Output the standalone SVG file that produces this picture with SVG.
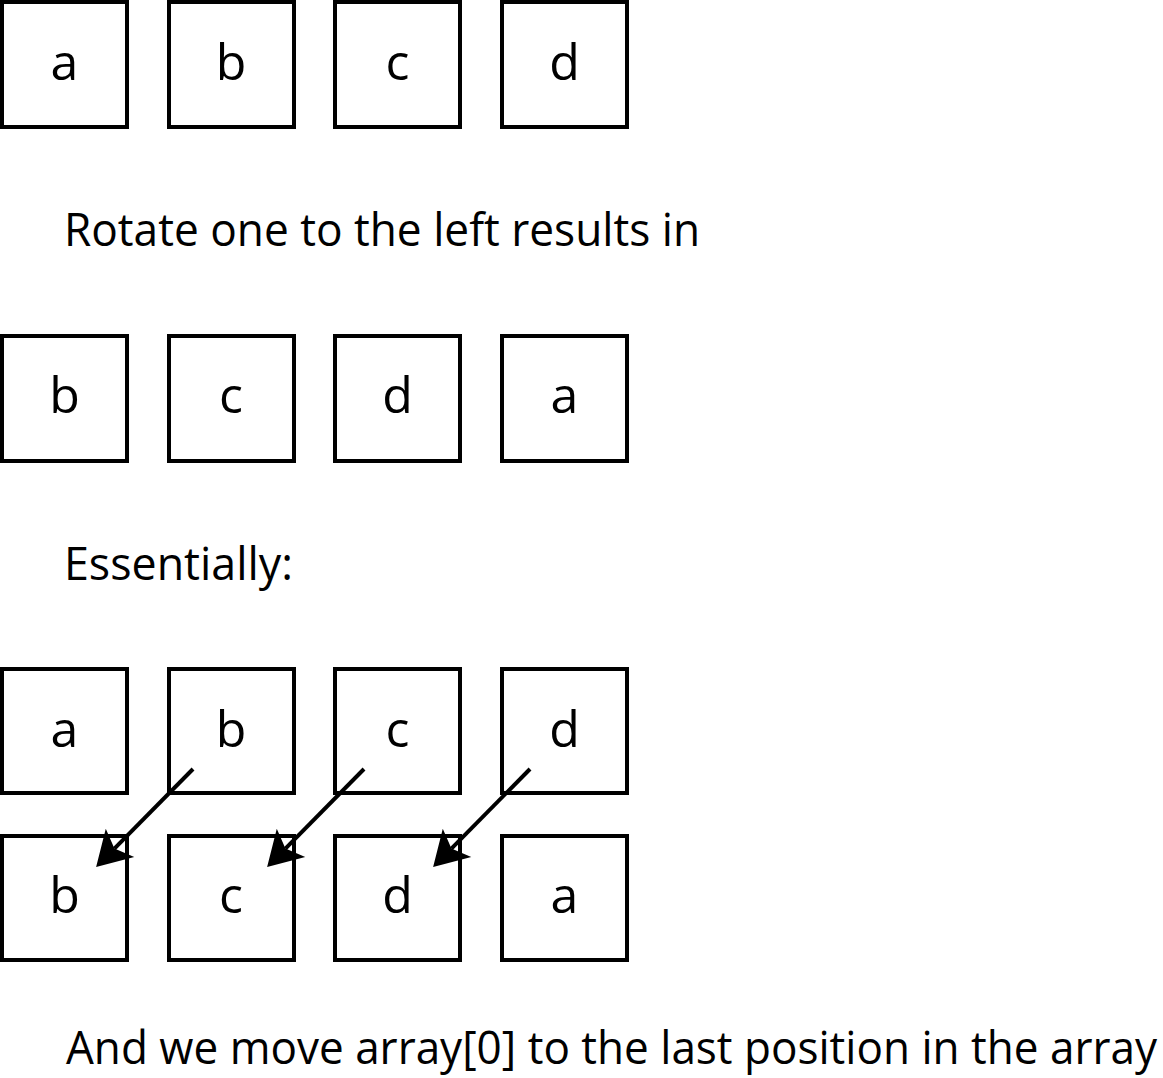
<svg xmlns="http://www.w3.org/2000/svg" width="1163" height="1078" viewBox="0 0 1163 1078">
<style>
.box{fill:#fff;stroke:#000;stroke-width:4}
.lbl{font-family:"Open Sans","Liberation Sans",sans-serif;font-size:50px;fill:#000;text-anchor:middle}
.txt{font-family:"Open Sans","Liberation Sans",sans-serif;font-size:46px;fill:#000}
.arr{stroke:#000;stroke-width:4;fill:none}
</style>
<defs>
<marker id="ah" markerUnits="userSpaceOnUse" markerWidth="60" markerHeight="60" refX="0" refY="0" orient="auto" overflow="visible" viewBox="-30 -30 60 60">
<path d="M26,0 L-8,-20 L0,0 L-8,20 Z" fill="#000"/>
</marker>
</defs>
<rect width="1163" height="1078" fill="#fff"/>
<g id="row1">
<g id="r1a"><rect class="box" x="2" y="2" width="125" height="125"/><text class="lbl" x="64.5" y="80">a</text></g>
<g id="r1b"><rect class="box" x="169" y="2" width="125" height="125"/><text class="lbl" x="231" y="80">b</text></g>
<g id="r1c"><rect class="box" x="335" y="2" width="125" height="125"/><text class="lbl" x="397.5" y="80">c</text></g>
<g id="r1d"><rect class="box" x="502" y="2" width="125" height="125"/><text class="lbl" x="564.5" y="80">d</text></g>
</g>
<text id="t1" class="txt" x="64" y="246" textLength="636" lengthAdjust="spacingAndGlyphs">Rotate one to the left results in</text>
<g id="row2">
<g id="r2b"><rect class="box" x="2" y="336" width="125" height="125"/><text class="lbl" x="64.5" y="413">b</text></g>
<g id="r2c"><rect class="box" x="169" y="336" width="125" height="125"/><text class="lbl" x="231" y="413">c</text></g>
<g id="r2d"><rect class="box" x="335" y="336" width="125" height="125"/><text class="lbl" x="397.5" y="413">d</text></g>
<g id="r2a"><rect class="box" x="502" y="336" width="125" height="125"/><text class="lbl" x="564.5" y="413">a</text></g>
</g>
<text id="t2" class="txt" x="64" y="580" textLength="229" lengthAdjust="spacingAndGlyphs">Essentially:</text>
<g id="row3">
<g id="r3a"><rect class="box" x="2" y="669" width="125" height="124"/><text class="lbl" x="64.5" y="747">a</text></g>
<g id="r3b"><rect class="box" x="169" y="669" width="125" height="124"/><text class="lbl" x="231" y="747">b</text></g>
<g id="r3c"><rect class="box" x="335" y="669" width="125" height="124"/><text class="lbl" x="397.5" y="747">c</text></g>
<g id="r3d"><rect class="box" x="502" y="669" width="125" height="124"/><text class="lbl" x="564.5" y="747">d</text></g>
</g>
<g id="row4">
<g id="r4b"><rect class="box" x="2" y="836" width="125" height="124"/><text class="lbl" x="64.5" y="913">b</text></g>
<g id="r4c"><rect class="box" x="169" y="836" width="125" height="124"/><text class="lbl" x="231" y="913">c</text></g>
<g id="r4d"><rect class="box" x="335" y="836" width="125" height="124"/><text class="lbl" x="397.5" y="913">d</text></g>
<g id="r4a"><rect class="box" x="502" y="836" width="125" height="124"/><text class="lbl" x="564.5" y="913">a</text></g>
</g>
<g id="connectors">
<line class="arr" x1="193" y1="769" x2="114.4" y2="848.6" marker-end="url(#ah)"/>
<line class="arr" x1="364" y1="769" x2="285.4" y2="848.6" marker-end="url(#ah)"/>
<line class="arr" x1="530" y1="769" x2="451.4" y2="848.6" marker-end="url(#ah)"/>
</g>
<text id="t3" class="txt" x="66" y="1064" textLength="1091" lengthAdjust="spacingAndGlyphs">And we move array[0] to the last position in the array</text>
</svg>
